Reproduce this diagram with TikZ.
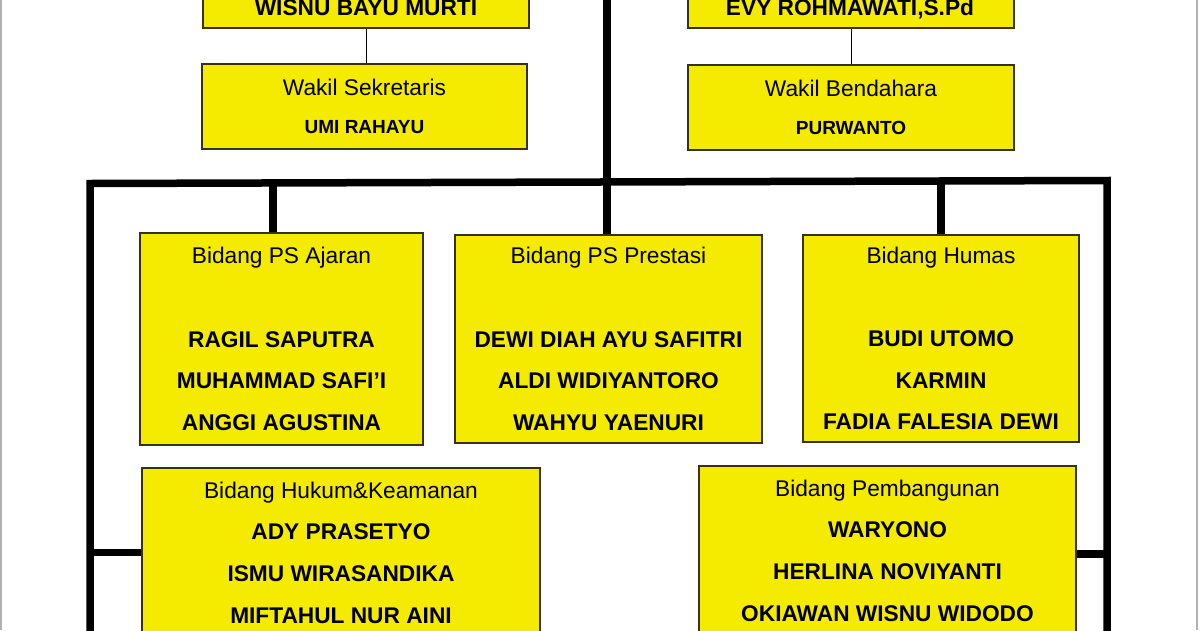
\documentclass[tikz,border=0pt]{standalone}
\usepackage{fontspec}
\setmainfont{Liberation Sans}
\definecolor{kuning}{RGB}{245,235,0}
\definecolor{tepi}{RGB}{55,50,20}
\begin{document}
\begin{tikzpicture}[x=1pt,y=-1pt,
    kotak/.style={draw=tepi,fill=kuning,line width=1.3pt,inner sep=0pt,align=center},
    bidang/.style={kotak,font=\fontsize{22.7}{41.6}\selectfont},
    wakil/.style={kotak,font=\fontsize{22.7}{38}\selectfont},
    garis/.style={line width=7.5pt},
    tipis/.style={line width=1pt}]
    \clip (0,0) rectangle (1200,630);
    \fill[white] (0,0) rectangle (1200,630);
    \draw[gray!60,line width=1.5pt] (1,0) -- (1,630) (1197,0) -- (1197,630);
    % pengurus atas
    \node[kotak,minimum width=326,minimum height=113] (sek) at (366,-28.5) {};
    \node[font=\fontsize{22.7}{27}\selectfont\bfseries,anchor=base] (sekname) at (366,15) {WISNU BAYU MURTI};
    \node[wakil,minimum width=325,minimum height=85] (wsek) at (364.5,106.5)
        {Wakil Sekretaris\\{\fontsize{19}{38}\selectfont\bfseries UMI RAHAYU}};
    \node[kotak,minimum width=326,minimum height=113] (ben) at (851,-28.5) {};
    \node[font=\fontsize{22.7}{27}\selectfont\bfseries,anchor=base] (benname) at (850,15) {EVY ROHMAWATI,S.Pd};
    \node[wakil,minimum width=326,minimum height=85] (wben) at (851,107.5)
        {Wakil Bendahara\\{\fontsize{19}{38}\selectfont\bfseries PURWANTO}};
    % bidang-bidang
    \node[bidang,minimum width=283,minimum height=212] (ajaran) at (281.5,339)
        {Bidang PS Ajaran\\[41.6pt]\textbf{RAGIL SAPUTRA}\\\textbf{MUHAMMAD SAFI’I}\\\textbf{ANGGI AGUSTINA}};
    \node[bidang,minimum width=307,minimum height=208] (prestasi) at (608.5,339)
        {Bidang PS Prestasi\\[41.6pt]\textbf{DEWI DIAH AYU SAFITRI}\\\textbf{ALDI WIDIYANTORO}\\\textbf{WAHYU YAENURI}};
    \node[bidang,minimum width=276,minimum height=207] (humas) at (941,338.5)
        {Bidang Humas\\[41.6pt]\textbf{BUDI UTOMO}\\\textbf{KARMIN}\\\textbf{FADIA FALESIA DEWI}};
    \node[bidang,minimum width=398,minimum height=169] (hukum) at (341,552.5)
        {Bidang Hukum\&Keamanan\\\textbf{ADY PRASETYO}\\\textbf{ISMU WIRASANDIKA}\\\textbf{MIFTAHUL NUR AINI}};
    \node[bidang,minimum width=377,minimum height=169] (bangun) at (887.5,550.5)
        {Bidang Pembangunan\\\textbf{WARYONO}\\\textbf{HERLINA NOVIYANTI}\\\textbf{OKIAWAN WISNU WIDODO}};
    % garis
    \coordinate (kiri) at (90,183.5);
    \coordinate (kanan) at (1107,180.5);
    \coordinate (kiribawah) at (90,640);
    \coordinate (kananbawah) at (1107,640);
    \coordinate (puncak) at (607,-10);
    \coordinate (cabang) at (273,183);
    \draw[tipis] (sek.south) -- (sek.south |- wsek.north);
    \draw[tipis] (ben.south) -- (ben.south |- wben.north);
    \draw[garis] (kiribawah) -- (kiri) -- (kanan) -- (kananbawah);
    \draw[garis] (puncak) -- (puncak |- prestasi.north);
    \draw[garis] (cabang) -- (cabang |- ajaran.north);
    \draw[garis] (humas.north |- kanan) -- (humas.north);
    \draw[garis] (hukum.west -| kiri) -- (hukum.west);
    \draw[garis] ([yshift=-3.5pt]bangun.east) -- ([yshift=-3.5pt]bangun.east -| kanan);
\end{tikzpicture}
\end{document}
